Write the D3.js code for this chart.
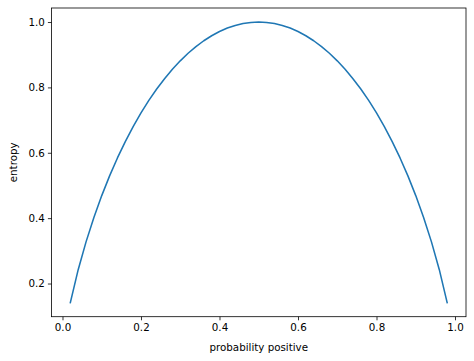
<!DOCTYPE html>
<html><head><meta charset="utf-8">
<script src="https://cdn.jsdelivr.net/npm/d3@7"></script>
<style>body{margin:0;background:#fff}svg{display:block}text{font-family:"DejaVu Sans",sans-serif;fill:#000}</style>
</head><body>
<svg id="c" width="474" height="361"></svg>
<script>
const probability = [0.02,0.04,0.06,0.08,0.10,0.12,0.14,0.16,0.18,0.20,0.22,0.24,0.26,0.28,0.30,0.32,0.34,0.36,0.38,0.40,0.42,0.44,0.46,0.48,0.50,
  0.52,0.54,0.56,0.58,0.60,0.62,0.64,0.66,0.68,0.70,0.72,0.74,0.76,0.78,0.80,0.82,0.84,0.86,0.88,0.90,0.92,0.94,0.96,0.98];
const entropy = [0.1414,0.2423,0.3274,0.4022,0.4690,0.5294,0.5842,0.6343,0.6801,0.7219,0.7602,0.7950,0.8267,0.8555,0.8813,0.9044,0.9248,0.9427,0.9580,0.9710,0.9815,0.9896,0.9954,0.9988,1.0000,
  0.9988,0.9954,0.9896,0.9815,0.9710,0.9580,0.9427,0.9248,0.9044,0.8813,0.8555,0.8267,0.7950,0.7602,0.7219,0.6801,0.6343,0.5842,0.5294,0.4690,0.4022,0.3274,0.2423,0.1414];
const xTicks = [0.0,0.2,0.4,0.6,0.8,1.0];
const yTicks = [0.2,0.4,0.6,0.8,1.0];

const L=51.5, R=466, T=8, B=316.7;
const svg=d3.select("#c");
const x=d3.scaleLinear().domain([-0.028,1.028]).range([L,R]);
const y=d3.scaleLinear().domain([0.0985,1.0429]).range([B,T]);

const gx=svg.append("g").attr("transform",`translate(0,${B})`)
  .call(d3.axisBottom(x).tickValues(xTicks).tickFormat(d3.format(".1f")).tickSize(3.6).tickPadding(3));
const gy=svg.append("g").attr("transform",`translate(${L},0)`)
  .call(d3.axisLeft(y).tickValues(yTicks).tickFormat(d3.format(".1f")).tickSize(3.6).tickPadding(3));
[gx,gy].forEach(g=>{g.select(".domain").remove();g.selectAll("line").attr("stroke","#000").attr("stroke-width",0.8);
  g.selectAll("text").attr("font-size","10.3px").attr("font-family","DejaVu Sans").attr("fill","#000");});

svg.append("rect").attr("x",L).attr("y",T).attr("width",R-L).attr("height",B-T)
  .attr("fill","none").attr("stroke","#000").attr("stroke-width",0.8);

const line=d3.line().x((d,i)=>x(probability[i])).y(d=>y(d));
svg.append("path").datum(entropy).attr("d",line).attr("fill","none")
  .attr("stroke","#1f77b4").attr("stroke-width",1.55).attr("stroke-linejoin","round").attr("stroke-linecap","square");

svg.append("text").attr("x",(L+R)/2).attr("y",351).attr("text-anchor","middle").attr("font-size","10.3px").text("probability positive");
svg.append("text").attr("transform",`translate(17,${(T+B)/2}) rotate(-90)`).attr("text-anchor","middle").attr("font-size","10.3px").text("entropy");
</script>
</body></html>
